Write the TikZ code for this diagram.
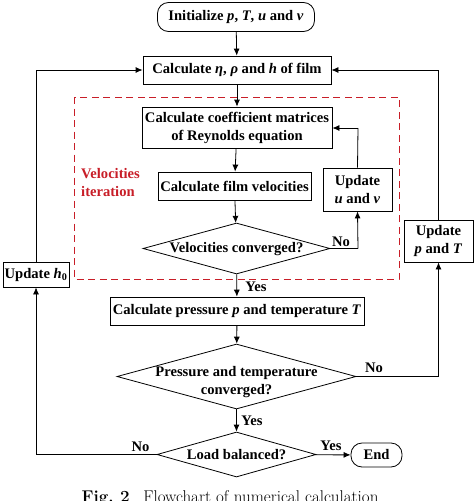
\documentclass[tikz,border=0pt]{standalone}
\usepackage{fontspec}
\setmainfont{Liberation Serif}
\newfontfamily\capfont{Latin Modern Roman}
\usetikzlibrary{shapes.geometric,arrows.meta}
\definecolor{dashred}{RGB}{200,30,40}
\begin{document}
\begin{tikzpicture}[x=1pt,y=-1pt,
  font=\fontsize{14.6}{18}\selectfont\bfseries,
  box/.style={draw,line width=0.8pt,inner sep=0pt,align=center},
  term/.style={draw,line width=0.8pt,rounded corners=11pt,inner sep=0pt,align=center},
  arr/.style={-{Latex[length=7pt,width=6pt]},line width=0.8pt},
  ln/.style={line width=0.8pt},
  lbl/.style={inner sep=0pt}]
\useasboundingbox (0,0) rectangle (474,501);
% nodes
\node[term,minimum width=157pt,minimum height=29pt] (init) at (236,17) {Initialize \textit{p}, \textit{T}, \textit{u} and \textit{v}};
\node[box,minimum width=188pt,minimum height=28pt] (film) at (237,70) {Calculate \textit{η}, \textit{ρ} and \textit{h} of film};
\node[box,minimum width=190pt,minimum height=41pt] (coef) at (237,127.5) {Calculate coefficient matrices\\of Reynolds equation};
\node[box,minimum width=153pt,minimum height=28pt] (vel) at (234.5,186) {Calculate film velocities};
\node[box,minimum width=69pt,minimum height=43pt] (upuv) at (357.5,189.5) {Update\\\textit{u} and \textit{v}};
\node[draw,line width=0.8pt,inner sep=0pt,minimum width=187pt,minimum height=51pt,diamond,aspect=3.67] (vconv) at (236.5,248.5) {};
\node at (236.5,249) {Velocities converged?};
\node[box,minimum width=254pt,minimum height=28pt] (press) at (237,311) {Calculate pressure \textit{p} and temperature \textit{T}};
\node[draw,line width=0.8pt,inner sep=0pt,minimum width=239pt,minimum height=65pt,diamond,aspect=3.68] (pconv) at (236.5,376.5) {};
\node[align=center] at (236.5,382) {Pressure and temperature\\converged?};
\node[draw,line width=0.8pt,inner sep=0pt,minimum width=159pt,minimum height=45pt,diamond,aspect=3.53] (load) at (236.5,454.5) {};
\node at (236.5,455) {Load balanced?};
\node[term,minimum width=51pt,minimum height=24pt] (end) at (376.5,455) {End};
\node[box,minimum width=66pt,minimum height=25pt] (uph) at (36,274.5) {Update \textit{h}\textsubscript{0}};
\node[box,minimum width=69pt,minimum height=42pt] (uppt) at (438.5,241) {Update\\\textit{p} and \textit{T}};
% dashed frame
\draw[dashred,line width=1pt,dash pattern=on 7pt off 4.5pt] (74.5,97) rectangle (399,279);
\node[text=dashred,align=left,anchor=north west,inner sep=0pt] (vit) at (81,168) {Velocities\\iteration};
% coordinates
\coordinate (c1) at (358,248.5);
\coordinate (c2) at (358,128);
\coordinate (c3) at (438.5,376.5);
\coordinate (c4) at (438.5,70);
\coordinate (c5) at (36,454.5);
\coordinate (c6) at (36,70);
% connectors
\draw[arr] (init) -- (film);
\draw[arr] (film) -- (coef);
\draw[arr] (coef) -- (vel);
\draw[arr] (vel) -- (vconv);
\draw[arr] (vconv) -- (press);
\draw[arr] (press) -- (pconv);
\draw[arr] (pconv) -- (load);
\draw[arr] (load) -- (end);
\draw[ln] (vconv.east) -- (c1);
\draw[arr] (c1) -- (upuv.south);
\draw[ln] (upuv.north) -- (c2);
\draw[arr] (c2) -- (coef.east|-c2);
\draw[ln] (pconv.east) -- (c3);
\draw[arr] (c3) -- (uppt.south);
\draw[ln] (uppt.north) -- (c4);
\draw[arr] (c4) -- (film.east);
\draw[ln] (load.west) -- (c5);
\draw[arr] (c5) -- (uph.south);
\draw[ln] (uph.north) -- (c6);
\draw[arr] (c6) -- (film.west);
% labels
\node[lbl] (l1) at (341,242) {No};
\node[lbl] (l2) at (256,287) {Yes};
\node[lbl] (l3) at (374,368) {No};
\node[lbl] (l4) at (252,421) {Yes};
\node[lbl] (l5) at (140.5,447) {No};
\node[lbl] (l6) at (331,446) {Yes};
% caption
\node[font=\capfont\fontsize{17}{20}\selectfont,anchor=base,inner sep=0pt] (cap) at (230,502.6) {\textbf{Fig.~2}\hspace{0.8em}Flowchart of numerical calculation};
\end{tikzpicture}
\end{document}
